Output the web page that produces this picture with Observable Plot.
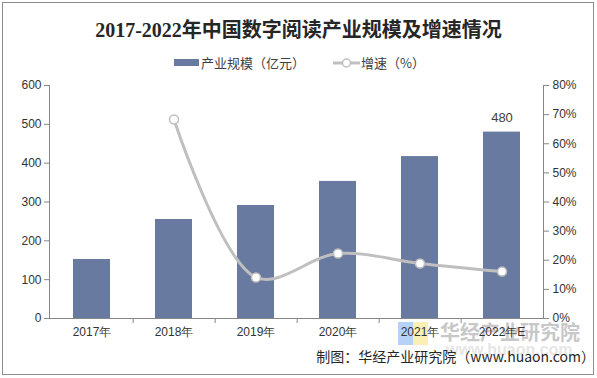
<!DOCTYPE html>
<html>
<head>
<meta charset="utf-8">
<script src="https://cdn.jsdelivr.net/npm/d3@7"></script>
<script src="https://cdn.jsdelivr.net/npm/@observablehq/plot@0.6"></script>
<style>
  html, body { margin: 0; padding: 0; background: #fff; }
  #wrap { position: relative; width: 597px; height: 378px; overflow: hidden; background: #fff; }
  #frame { position: absolute; left: 2px; top: 2px; width: 590px; height: 371px; border: 1px solid #8c8c8c; }
  .abs { position: absolute; white-space: nowrap; line-height: 1; }
  #title { left: 0; width: 597px; top: 20px; text-align: center; font-family: "Liberation Serif", "Noto Sans CJK SC", serif; font-weight: bold; font-size: 20px; color: #262626; }
  .leg { font-family: "Noto Sans CJK SC", sans-serif; font-size: 13px; color: #404040; top: 56px; }
  #chart { position: absolute; left: 0; top: 0; }
  #wm { left: 440px; top: 322px; font-family: "Noto Sans CJK SC", sans-serif; font-weight: bold; font-size: 20px; color: #c8c8c8; }
  #wm2 { left: 446px; top: 342px; font-family: "Liberation Sans", sans-serif; font-weight: bold; font-size: 16px; color: #e6e6e6; }
  #caption { right: 2px; top: 349px; font-family: "Noto Sans CJK SC", sans-serif; font-size: 14px; color: #262626; }
</style>
</head>
<body>
<div id="wrap">
  <div id="frame"></div>
  <div class="abs" style="left:398px;top:322px;width:15px;height:23px;background:#b6d3f7;"></div>
  <div class="abs" style="left:413px;top:322px;width:15px;height:23px;background:#fcefb4;"></div>
  <div class="abs" id="wm">华经产业研究院</div>
  <div class="abs" id="wm2">www.huaon.com</div>
  <div id="chart"></div>
  <div class="abs" id="title">2017-2022年中国数字阅读产业规模及增速情况</div>
  <div class="abs" style="left:174px;top:59px;width:25px;height:7px;background:#687aa0;"></div>
  <div class="abs leg" style="left:201px;">产业规模（亿元）</div>
  <svg class="abs" style="left:332px;top:56px;" width="30" height="14">
    <line x1="1" y1="7" x2="28" y2="7" stroke="#bfbfbf" stroke-width="3"></line>
    <circle cx="14.5" cy="7" r="4" fill="#fff" stroke="#bfbfbf" stroke-width="1.5"></circle>
  </svg>
  <div class="abs leg" style="left:361px;">增速（%）</div>
  <div class="abs" id="caption">制图：华经产业研究院（www.huaon.com）</div>
</div>
<script>
const years = ["2017年", "2018年", "2019年", "2020年", "2021年", "2022年E"];
const scaleValues = [152, 255, 291, 353, 417, 480];
const growthValues = [null, 68.3, 14.1, 22.3, 18.9, 16.1];
const leftTicks = [0, 100, 200, 300, 400, 500, 600];
const rightTickLabels = ["0%", "10%", "20%", "30%", "40%", "50%", "60%", "70%", "80%"];

const W = 597, H = 378, ML = 49, MR = 54, MT = 85, MB = 60;
const yMax = 600, gMax = 80;
const step = (W - ML - MR) / years.length;
const pxPerUnit = (H - MT - MB) / yMax;

const data = years.map((year, i) => ({year, value: scaleValues[i], growth: growthValues[i]}));
const lineData = data.filter(d => d.growth != null);
const rightTicks = rightTickLabels.map((_, i) => i * yMax / (rightTickLabels.length - 1));
const axisColor = "#868686";

const chart = Plot.plot({
  width: W, height: H,
  marginLeft: ML, marginRight: MR, marginTop: MT, marginBottom: MB,
  style: {fontFamily: "'Liberation Sans', Arial, sans-serif", fontSize: "12px", color: "#333", background: "transparent", overflow: "visible"},
  x: {domain: years, paddingInner: 0.55, paddingOuter: 0.275, label: null},
  y: {domain: [0, yMax], label: null},
  marks: [
    Plot.barY(data, {x: "year", y: "value", fill: "#687aa0"}),
    Plot.frame({anchor: "left", stroke: axisColor}),
    Plot.frame({anchor: "right", stroke: axisColor}),
    Plot.frame({anchor: "bottom", stroke: axisColor}),
    Plot.ruleX(years.slice(0, -1), {x: d => d, dx: step / 2, y1: 0, y2: -5 / pxPerUnit, stroke: axisColor}),
    Plot.axisX({tickSize: 0, tickPadding: 9, fill: "#333", fontSize: 12}),
    Plot.axisY({anchor: "left", ticks: leftTicks, tickSize: 5, tickPadding: 3, stroke: axisColor, fill: "#333", fontSize: 12}),
    Plot.axisY({anchor: "right", ticks: rightTicks, tickFormat: (d, i) => rightTickLabels[i], tickSize: 5, tickPadding: 4, stroke: axisColor, fill: "#333", fontSize: 12}),
    Plot.line(lineData, {x: "year", y: d => d.growth / gMax * yMax, stroke: "#bfbfbf", strokeWidth: 3, curve: "catmull-rom"}),
    Plot.dot(lineData, {x: "year", y: d => d.growth / gMax * yMax, r: 4.5, fill: "#fff", stroke: "#bfbfbf", strokeWidth: 1.5}),
    Plot.text(data.slice(-1), {x: "year", y: "value", text: d => String(d.value), dy: -14, fill: "#404040", fontSize: 13})
  ]
});
document.getElementById("chart").appendChild(chart);
</script>
</body>
</html>
